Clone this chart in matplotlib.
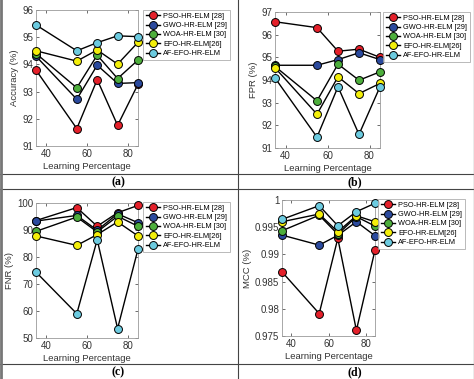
import numpy as np
import matplotlib.pyplot as plt
from matplotlib.lines import Line2D

plt.rcParams['font.family'] = ['Liberation Sans', 'DejaVu Sans']

# DATA
lp = [35, 55, 65, 75, 85]
names = ["PSO-HR-ELM [28]", "GWO-HR-ELM [29]", "WOA-HR-ELM [30]", "EFO-HR-ELM[26]", "AF-EFO-HR-ELM"]
colors = ["#e4202a", "#2b4a9e", "#4dae3c", "#f4ef0a", "#6ccbe0"]

acc_pso = [93.79, 91.64, 93.44, 91.76, 93.27]
acc_gwo = [94.30, 92.72, 93.97, 93.30, 93.33]
acc_woa = [94.40, 93.14, 94.34, 93.48, 94.16]
acc_efo = [94.50, 94.12, 94.53, 94.01, 94.81]
acc_af = [95.45, 94.50, 94.80, 95.05, 95.02]

fpr_pso = [96.57, 96.31, 95.27, 95.36, 95.00]
fpr_gwo = [94.65, 94.65, 94.90, 95.20, 94.90]
fpr_woa = [94.60, 93.08, 94.70, 93.99, 94.36]
fpr_efo = [94.54, 92.49, 94.14, 93.40, 93.85]
fpr_af = [94.09, 91.48, 93.70, 91.60, 93.70]

fnr_pso = [93.5, 98.3, 91.4, 96.4, 99.1]
fnr_gwo = [93.3, 95.4, 89.9, 96.0, 92.7]
fnr_woa = [89.5, 94.8, 89.3, 95.1, 91.4]
fnr_efo = [87.8, 84.3, 88.3, 93.0, 87.8]
fnr_af = [74.4, 59.0, 86.4, 53.5, 82.9]

mcc_pso = [0.98679, 0.97912, 0.99294, 0.97605, 0.99079]
mcc_gwo = [0.99355, 0.99171, 0.99350, 0.99600, 0.99343]
mcc_woa = [0.99435, 0.99720, 0.99370, 0.99693, 0.99521]
mcc_efo = [0.99600, 0.99742, 0.99416, 0.99710, 0.99600]
mcc_af = [0.99644, 0.99896, 0.99527, 0.99785, 0.99940]

W, H = 474, 379
fig = plt.figure(figsize=(W/100, H/100), dpi=100)

def rect(l, t, r, b):
    return [l/W, 1 - b/H, (r-l)/W, (b-t)/H]

panels = [
    (rect(36, 10, 138, 146), [acc_pso, acc_gwo, acc_woa, acc_efo, acc_af], "Accuracy (%)",
     (91, 96), [91, 92, 93, 94, 95, 96], None, (143, 10)),
    (rect(275, 12, 380, 148), [fpr_pso, fpr_gwo, fpr_woa, fpr_efo, fpr_af], "FPR (%)",
     (91, 97), [91, 92, 93, 94, 95, 96, 97], None, (383, 12)),
    (rect(36, 203, 138, 338), [fnr_pso, fnr_gwo, fnr_woa, fnr_efo, fnr_af], "FNR (%)",
     (50, 100), [50, 60, 70, 80, 90, 100], None, (143, 202)),
    (rect(282, 200, 375, 336), [mcc_pso, mcc_gwo, mcc_woa, mcc_efo, mcc_af], "MCC (%)",
     (0.975, 1), [0.975, 0.98, 0.985, 0.99, 0.995, 1],
     ["0.975", "0.98", "0.985", "0.99", "0.995", "1"], (378, 199)),
]

for pos, series, ylab, ylim, yt, ytl, legpos in panels:
    ax = fig.add_axes(pos)
    for s, c, nm in zip(series, colors, names):
        ax.plot(lp, s, "-o", color="k", lw=1, markerfacecolor=c, markeredgecolor="k",
                markeredgewidth=0.7, markersize=5.7, label=nm, clip_on=False, zorder=3)
    ax.set_xlim(35, 85)
    ax.set_ylim(*ylim)
    ax.set_xticks([40, 60, 80])
    ax.set_yticks(yt)
    if ytl is not None:
        ax.set_yticklabels(ytl)
    ax.tick_params(direction="in", length=2, width=0.5, labelsize=7, colors="#333333",
                   top=True, right=True, pad=2)
    for sp in ax.spines.values():
        sp.set_color("#9a9a9a")
        sp.set_linewidth(0.6)
    ax.set_xlabel("Learning Percentage", fontsize=6.8, color="#333333", labelpad=2.5)
    ax.set_ylabel(ylab, fontsize=6.8, color="#333333", labelpad=2)
    leg = ax.legend(loc="upper left", bbox_to_anchor=(legpos[0]/W, 1 - legpos[1]/H),
                    bbox_transform=fig.transFigure, fontsize=5.3, frameon=True,
                    fancybox=False, edgecolor="#9a9a9a", handlelength=2.0,
                    labelspacing=0.3, borderpad=0.35, handletextpad=0.4,
                    borderaxespad=0, markerscale=1.0)
    leg.get_frame().set_linewidth(0.6)

# table borders and captions
lc = "#444444"
for y in [174, 189, 364]:
    fig.add_artist(Line2D([0, 1], [1 - y/H, 1 - y/H], color=lc, lw=0.8))
fig.add_artist(Line2D([237.5/W, 237.5/W], [0, 1], color=lc, lw=0.8))
fig.add_artist(Line2D([0.5/W, 0.5/W], [0, 1], color="#777777", lw=2))
fig.add_artist(Line2D([473.5/W, 473.5/W], [0, 1], color="#999999", lw=1))

caps = ["(a)", "(b)", "(c)", "(d)"]
cap_xy = [(118, 182), (355, 182), (118, 372), (355, 372)]
for cp, (cx, cy) in zip(caps, cap_xy):
    fig.text(cx/W, 1 - cy/H, cp, ha="center", va="center", fontsize=8.5,
             fontweight="bold", family="Liberation Serif")

fig.savefig("out.png", dpi=100)
